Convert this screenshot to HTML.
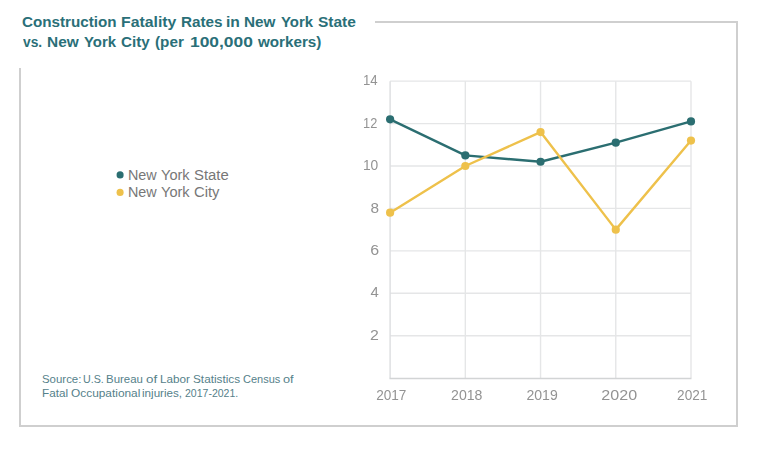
<!DOCTYPE html>
<html><head><meta charset="utf-8">
<style>
html,body{margin:0;padding:0;background:#fff;width:768px;height:461px;overflow:hidden;position:relative;font-family:"Liberation Sans",sans-serif;}
.box{position:absolute;left:19px;top:21px;width:715px;height:402px;border:2px solid #cfcfcf;}
.legend-gap{position:absolute;left:15px;top:18px;width:360px;height:50px;background:#fff;}
.title{position:absolute;transform-origin:0 0;font-weight:bold;font-size:14px;line-height:19.7px;color:#2a6f78;white-space:nowrap;}
.leg{position:absolute;transform-origin:0 0;font-size:14px;color:#777777;white-space:nowrap;line-height:16px;}
.dot{position:absolute;width:7px;height:7px;border-radius:50%;}
.src{position:absolute;left:42px;transform-origin:0 0;top:372px;font-size:10.5px;line-height:14.2px;color:#55818a;white-space:nowrap;}
svg{position:absolute;left:0;top:0;will-change:transform;}
.ax{font-size:13px;fill:#939393;}
</style></head>
<body><div id="wrap" style="position:absolute;left:0;top:0;width:768px;height:461px">
<div class="box"></div>
<div class="legend-gap"></div>
<div class="title" style="left:22.46px;top:13px;transform:scaleX(1.0845)">Construction</div>
<div class="title" style="left:121.07px;top:13px;transform:scaleX(1.1292)">Fatality</div>
<div class="title" style="left:181.01px;top:13px;transform:scaleX(1.0904)">Rates</div>
<div class="title" style="left:226.09px;top:13px;transform:scaleX(1.1143)">in</div>
<div class="title" style="left:244.31px;top:13px;transform:scaleX(1.0919)">New</div>
<div class="title" style="left:281.43px;top:13px;transform:scaleX(1.0655)">York</div>
<div class="title" style="left:318.45px;top:13px;transform:scaleX(1.1068)">State</div>
<div class="title" style="left:23.00px;top:32.7px;transform:scaleX(0.9838)">vs.</div>
<div class="title" style="left:46.65px;top:32.7px;transform:scaleX(1.1009)">New</div>
<div class="title" style="left:83.63px;top:32.7px;transform:scaleX(1.0655)">York</div>
<div class="title" style="left:121.06px;top:32.7px;transform:scaleX(1.0835)">City</div>
<div class="title" style="left:155.18px;top:32.7px;transform:scaleX(1.0902)">(per</div>
<div class="title" style="left:189.67px;top:32.7px;transform:scaleX(1.2426)">100,000</div>
<div class="title" style="left:257.60px;top:32.7px;transform:scaleX(1.0857)">workers)</div>

<div class="leg" style="left:127.87px;top:166.5px;transform:scaleX(1.0259)">New</div>
<div class="leg" style="left:161.18px;top:166.5px;transform:scaleX(1.0407)">York</div>
<div class="leg" style="left:194.10px;top:166.5px;transform:scaleX(1.0624)">State</div>
<div class="leg" style="left:127.87px;top:184px;transform:scaleX(1.0259)">New</div>
<div class="leg" style="left:161.18px;top:184px;transform:scaleX(1.0407)">York</div>
<div class="leg" style="left:194.11px;top:184px;transform:scaleX(1.0581)">City</div>

<div class="src" style="left:42.06px;top:372px;transform:scaleX(1.0878)">Source:</div>
<div class="src" style="left:82.84px;top:372px;transform:scaleX(1.0187)">U.S.</div>
<div class="src" style="left:106.18px;top:372px;transform:scaleX(1.0892)">Bureau</div>
<div class="src" style="left:145.86px;top:372px;transform:scaleX(1.2727)">of</div>
<div class="src" style="left:159.76px;top:372px;transform:scaleX(1.1154)">Labor</div>
<div class="src" style="left:193.14px;top:372px;transform:scaleX(1.1224)">Statistics</div>
<div class="src" style="left:243.18px;top:372px;transform:scaleX(1.0475)">Census</div>
<div class="src" style="left:283.19px;top:372px;transform:scaleX(1.2121)">of</div>
<div class="src" style="left:41.76px;top:386.2px;transform:scaleX(1.1182)">Fatal</div>
<div class="src" style="left:70.73px;top:386.2px;transform:scaleX(1.1317)">Occupational</div>
<div class="src" style="left:141.97px;top:386.2px;transform:scaleX(1.1072)">injuries,</div>
<div class="src" style="left:184.50px;top:386.2px;transform:scaleX(1.0010)">2017-2021.</div>

<svg width="768" height="461" viewBox="0 0 768 461">
  <g stroke="#e5e6e7" stroke-width="1.4" fill="none">
    <line x1="390.10" y1="335.68" x2="691.00" y2="335.68"/>
    <line x1="390.10" y1="293.26" x2="691.00" y2="293.26"/>
    <line x1="390.10" y1="250.84" x2="691.00" y2="250.84"/>
    <line x1="390.10" y1="208.42" x2="691.00" y2="208.42"/>
    <line x1="390.10" y1="166.00" x2="691.00" y2="166.00"/>
    <line x1="390.10" y1="123.58" x2="691.00" y2="123.58"/>
    <line x1="390.10" y1="81.16" x2="691.00" y2="81.16"/>
    <line x1="390.10" y1="81.16" x2="390.10" y2="378.10" stroke="#dcdee0"/>
    <line x1="465.33" y1="81.16" x2="465.33" y2="378.10"/>
    <line x1="540.55" y1="81.16" x2="540.55" y2="378.10"/>
    <line x1="615.77" y1="81.16" x2="615.77" y2="378.10"/>
    <line x1="691.00" y1="81.16" x2="691.00" y2="378.10"/>
  </g>
  <line x1="389.40" y1="378.45" x2="691.50" y2="378.45" stroke="#d2d4d5" stroke-width="1.6"/>
  <g class="ax" style="font-size:14px">
    <text transform="translate(362.96,85) scale(0.9404,1)">14</text>
    <text transform="translate(363.09,128) scale(0.9143,1)">12</text>
    <text transform="translate(362.91,170) scale(0.9857,1)">10</text>
    <text transform="translate(370.45,212.5) scale(1.0963,1)">8</text>
    <text transform="translate(370.35,255) scale(1.1385,1)">6</text>
    <text transform="translate(370.53,297) scale(1.0621,1)">4</text>
    <text transform="translate(370.05,340) scale(1.1360,1)">2</text>
    <text transform="translate(376.17,400) scale(0.9714,1)">2017</text>
    <text transform="translate(451.04,400) scale(1.0084,1)">2018</text>
    <text transform="translate(526.45,400) scale(1.0050,1)">2019</text>
    <text transform="translate(601.34,400) scale(1.1500,1)">2020</text>
    <text transform="translate(677.07,400) scale(0.9748,1)">2021</text>
  </g>
  <polyline points="390.10,119.34 465.33,155.40 540.55,161.76 615.77,142.67 691.00,121.46" fill="none" stroke="#2b6e71" stroke-width="2.4" stroke-linejoin="round"/>
  <g fill="#2b6e71"><circle cx="390.10" cy="119.34" r="4.1"/><circle cx="465.33" cy="155.40" r="4.1"/><circle cx="540.55" cy="161.76" r="4.1"/><circle cx="615.77" cy="142.67" r="4.1"/><circle cx="691.00" cy="121.46" r="4.1"/></g>
  <polyline points="390.10,212.66 465.33,166.00 540.55,132.06 615.77,229.63 691.00,140.55" fill="none" stroke="#eec14b" stroke-width="2.4" stroke-linejoin="round"/>
  <g fill="#eec14b"><circle cx="390.10" cy="212.66" r="4.1"/><circle cx="465.33" cy="166.00" r="4.1"/><circle cx="540.55" cy="132.06" r="4.1"/><circle cx="615.77" cy="229.63" r="4.1"/><circle cx="691.00" cy="140.55" r="4.1"/></g>
  <circle cx="120.1" cy="174.9" r="3.55" fill="#2b6e71"/>
  <circle cx="120.1" cy="192.4" r="3.55" fill="#eec14b"/>
</svg>
</div></body></html>
